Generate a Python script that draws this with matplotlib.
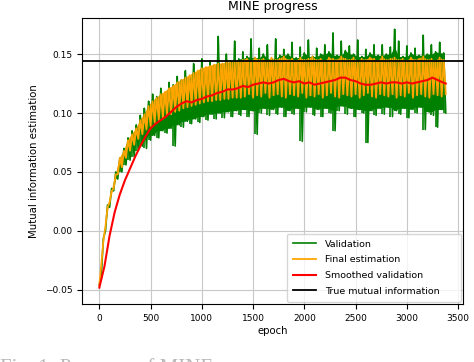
import numpy as np
import matplotlib
matplotlib.use("Agg")
import matplotlib.pyplot as plt

# validation estimate, read as upper / lower swings of the noisy curve
step = 40
val_hi = [-0.046, -0.006, 0.022, 0.036, 0.050, 0.062, 0.070, 0.079, 0.085, 0.090,
          0.098, 0.104, 0.110, 0.116, 0.114, 0.121, 0.117, 0.126, 0.124, 0.131,
          0.128, 0.136, 0.130, 0.142, 0.134, 0.146, 0.138, 0.144, 0.140, 0.165,
          0.141, 0.150, 0.144, 0.161, 0.146, 0.152, 0.148, 0.163, 0.147, 0.155,
          0.150, 0.158, 0.146, 0.163, 0.149, 0.154, 0.150, 0.160, 0.147, 0.156,
          0.151, 0.162, 0.148, 0.155, 0.150, 0.158, 0.152, 0.168, 0.149, 0.161,
          0.153, 0.157, 0.150, 0.162, 0.148, 0.154, 0.151, 0.158, 0.149, 0.158,
          0.150, 0.156, 0.171, 0.161, 0.148, 0.157, 0.151, 0.155, 0.149, 0.166,
          0.150, 0.158, 0.152, 0.160, 0.151]
val_lo = [-0.036, 0.000, 0.020, 0.034, 0.044, 0.050, 0.056, 0.060, 0.063, 0.068,
          0.072, 0.070, 0.077, 0.081, 0.079, 0.085, 0.083, 0.087, 0.072, 0.090,
          0.088, 0.093, 0.091, 0.095, 0.092, 0.097, 0.094, 0.099, 0.095, 0.100,
          0.096, 0.101, 0.097, 0.102, 0.098, 0.103, 0.097, 0.102, 0.082, 0.100,
          0.104, 0.098, 0.103, 0.099, 0.105, 0.097, 0.102, 0.099, 0.104, 0.076,
          0.101, 0.105, 0.098, 0.103, 0.097, 0.104, 0.100, 0.085, 0.102, 0.106,
          0.099, 0.104, 0.097, 0.103, 0.100, 0.075, 0.102, 0.098, 0.104, 0.099,
          0.105, 0.097, 0.102, 0.099, 0.104, 0.096, 0.103, 0.100, 0.105, 0.086,
          0.101, 0.098, 0.088, 0.103, 0.100]

# final estimation (orange band)
fin_hi = [-0.046, -0.008, 0.020, 0.034, 0.048, 0.062, 0.068, 0.077, 0.082, 0.087,
          0.094, 0.099, 0.106, 0.110, 0.113, 0.116, 0.118, 0.121, 0.123, 0.126,
          0.128, 0.130, 0.132, 0.134, 0.136, 0.138, 0.139, 0.140, 0.141, 0.142,
          0.142, 0.143, 0.143, 0.144, 0.144, 0.145, 0.146, 0.144, 0.147, 0.145,
          0.146, 0.144, 0.147, 0.145, 0.146, 0.148, 0.145, 0.146, 0.144, 0.147,
          0.145, 0.146, 0.148, 0.145, 0.146, 0.144, 0.147, 0.146, 0.145, 0.148,
          0.146, 0.145, 0.147, 0.144, 0.146, 0.145, 0.147, 0.146, 0.144, 0.148,
          0.145, 0.146, 0.147, 0.145, 0.146, 0.144, 0.147, 0.145, 0.146, 0.148,
          0.145, 0.146, 0.144, 0.147, 0.145]
fin_lo = [-0.028, 0.004, 0.024, 0.036, 0.048, 0.054, 0.062, 0.068, 0.073, 0.078,
          0.082, 0.086, 0.089, 0.092, 0.094, 0.096, 0.098, 0.099, 0.101, 0.102,
          0.104, 0.105, 0.106, 0.107, 0.108, 0.109, 0.110, 0.110, 0.111, 0.111,
          0.112, 0.112, 0.113, 0.113, 0.113, 0.114, 0.116, 0.113, 0.115, 0.114,
          0.117, 0.113, 0.115, 0.116, 0.114, 0.113, 0.116, 0.115, 0.114, 0.117,
          0.113, 0.115, 0.114, 0.116, 0.113, 0.115, 0.117, 0.114, 0.113, 0.116,
          0.115, 0.114, 0.116, 0.113, 0.115, 0.117, 0.114, 0.113, 0.116, 0.115,
          0.114, 0.116, 0.113, 0.115, 0.114, 0.117, 0.113, 0.115, 0.116, 0.114,
          0.113, 0.116, 0.115, 0.114, 0.116]

# smoothed validation (red), every 50 epochs, last point at 3380
smooth_epoch = list(range(0, 3400, 50)) + [3380]
smooth_val = [-0.048, -0.030, -0.004, 0.016, 0.031, 0.043, 0.053, 0.063, 0.072, 0.080,
              0.087, 0.091, 0.094, 0.097, 0.101, 0.105, 0.108, 0.110, 0.109, 0.111,
              0.112, 0.114, 0.115, 0.117, 0.118, 0.120, 0.120, 0.121, 0.123, 0.122,
              0.124, 0.125, 0.126, 0.125, 0.126, 0.128, 0.129, 0.127, 0.126, 0.127,
              0.125, 0.126, 0.124, 0.125, 0.126, 0.127, 0.128, 0.130, 0.130, 0.128,
              0.127, 0.125, 0.124, 0.124, 0.125, 0.126, 0.125, 0.126, 0.126, 0.125,
              0.126, 0.125, 0.126, 0.127, 0.128, 0.130, 0.128, 0.126, 0.125]

true_mi = 0.1445


def rolling(a, fn):
    p = np.pad(a, 1, mode="edge")
    return fn(np.vstack([p[:-2], p[1:-1], p[2:]]), axis=0)


def noisy(ax, hi, lo, color, label, spikes):
    hi, lo = np.asarray(hi), np.asarray(lo)
    x_hi = np.arange(len(hi)) * step
    x_lo = x_hi + step // 2
    x = np.column_stack([x_hi, x_lo]).ravel()
    y = np.column_stack([hi, lo]).ravel()
    if spikes:
        # solid body of the noise, single samples stick out as thin spikes
        top = rolling(hi, np.min)
        bot = rolling(lo, np.max)
        ok = (top > bot) & (x_hi >= 400)
        ax.fill_between(x_hi, bot, top, where=ok, color=color, lw=0)
        ax.vlines(x_hi[hi > lo], lo[hi > lo], hi[hi > lo], color=color, lw=1.2)
        ax.plot(x, y, color=color, lw=1.2, label=label)
    else:
        ax.fill(np.concatenate([x_hi, x_lo[::-1]]),
                np.concatenate([hi, lo[::-1]]), color=color, lw=0)
        ax.plot(x, y, color=color, lw=1.3, label=label)


fig = plt.figure(figsize=(4.74, 3.62), dpi=100)
ax = fig.add_axes([0.173, 0.160, 0.804, 0.790])

noisy(ax, val_hi, val_lo, "green", "Validation", True)
noisy(ax, fin_hi, fin_lo, "orange", "Final estimation", False)
ax.plot(smooth_epoch, smooth_val, color="red", lw=1.5, label="Smoothed validation")
ax.axhline(true_mi, color="black", lw=1.3, label="True mutual information")

ax.set_xticks(np.arange(0, 3501, 500))
ax.set_yticks([-0.05, 0.0, 0.05, 0.10, 0.15])
ax.set_yticklabels(["\u22120.05", "0.00", "0.05", "0.10", "0.15"])
ax.tick_params(labelsize=6.5)
ax.grid(True, color="#c8c8c8", lw=0.8)
ax.set_axisbelow(True)
ax.set_xlim(-169, 3549)
ax.set_ylim(-0.062, 0.1805)

ax.set_xlabel("epoch", fontsize=7.3, labelpad=2)
ax.set_ylabel("Mutual information estimation", fontsize=7.3)
ax.set_title("MINE progress", fontsize=9, pad=6)

handles, labels = ax.get_legend_handles_labels()
labels[-1] = labels[-1] + "     "
ax.legend(handles, labels, loc="lower right", fontsize=6.8, handlelength=2.45,
          handletextpad=0.95, borderaxespad=0.25, labelspacing=0.7,
          borderpad=0.65, fancybox=True, framealpha=0.8)

fig.text(0.0, 0.010, "Fig. 1: Progress of MINE", color="#b8b8b8",
         fontsize=15, family="Liberation Serif", va="top")

fig.savefig("out.png", dpi=100)
